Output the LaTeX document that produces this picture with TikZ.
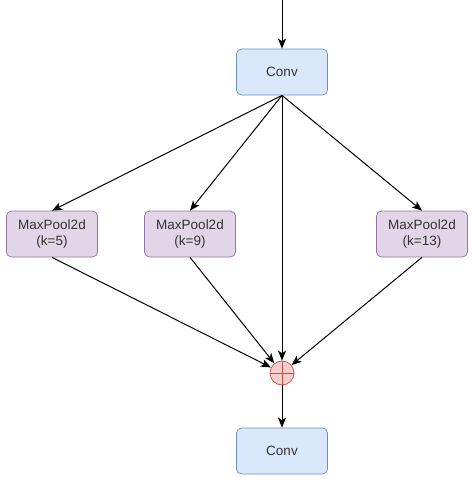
\documentclass[tikz,border=0pt]{standalone}
\usepackage{fontspec}
\setmainfont{Liberation Sans}
\usetikzlibrary{arrows.meta}
\definecolor{convfill}{HTML}{DAE8FC}
\definecolor{convline}{HTML}{6C8EBF}
\definecolor{poolfill}{HTML}{E1D5E7}
\definecolor{poolline}{HTML}{9673A6}
\definecolor{sumfill}{HTML}{F8CECC}
\definecolor{sumline}{HTML}{B85450}
\begin{document}
\begin{tikzpicture}[x=1pt, y=-1pt, ->, >={Stealth[length=10pt, width=8pt, inset=2.5pt]}, line width=1pt,
  block/.style={rectangle, rounded corners=5pt, minimum width=91pt, minimum height=46pt,
    align=center, font=\fontsize{13.5}{16}\selectfont, text=black!80, line width=0.7pt},
  conv/.style={block, draw=convline, fill=convfill},
  pool/.style={block, draw=poolline, fill=poolfill},
  sum/.style={circle, draw=sumline, fill=sumfill, minimum size=24pt, inner sep=0pt, line width=0.7pt}]
  \useasboundingbox (0,0) rectangle (474,482);
  \coordinate (In) at (282,0);
  \node[conv] (C1) at (282,72) {Conv};
  \node[pool] (P5) at (52,234) {MaxPool2d\\(k=5)};
  \node[pool] (P9) at (190,234) {MaxPool2d\\(k=9)};
  \node[pool] (P13) at (422,234) {MaxPool2d\\(k=13)};
  \node[sum] (S) at (282,373) {};
  \draw[-, line width=0.7pt, sumline] (S.north) -- (S.south) (S.west) -- (S.east);
  \node[conv] (C2) at (282,451) {Conv};
  \path (In) edge (C1)
        (C1.south) edge (P5.north)
                   edge (P9.north)
                   edge (S.north)
                   edge (P13.north)
        (P5.south) edge (S)
        (P9.south) edge (S)
        (P13.south) edge (S)
        (S) edge (C2);
\end{tikzpicture}
\end{document}
